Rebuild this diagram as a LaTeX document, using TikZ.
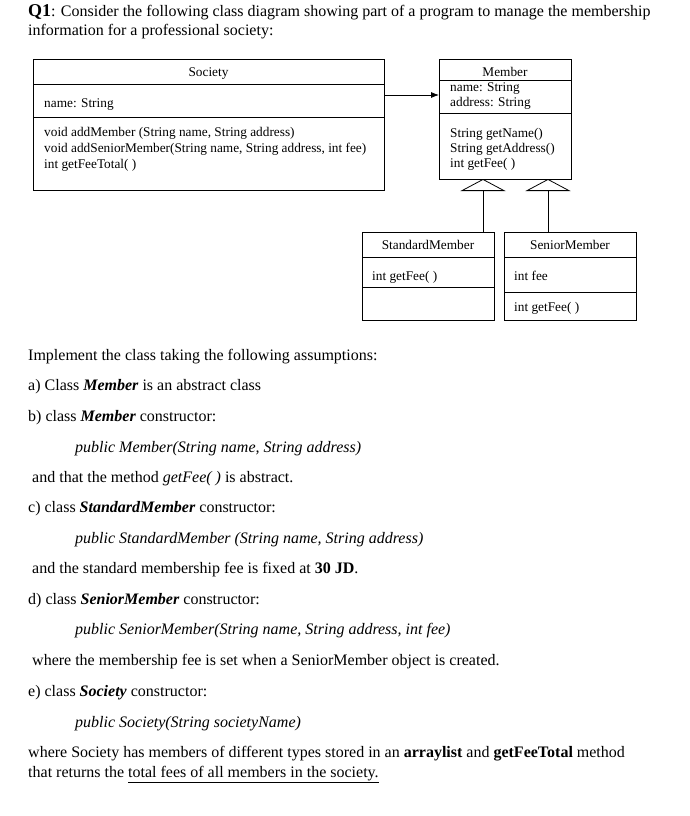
\documentclass[tikz,border=0pt]{standalone}
\usepackage{fontspec}
\setmainfont{Liberation Serif}
\usetikzlibrary{arrows.meta}
\begin{document}
\begin{tikzpicture}[x=1pt,y=-1pt,
  txt/.style={anchor=base west,inner sep=0pt,font=\fontsize{16}{18}\selectfont},
  btxt/.style={anchor=base west,inner sep=0pt,font=\fontsize{13.3}{15}\selectfont},
  ctxt/.style={anchor=base,inner sep=0pt,font=\fontsize{13.3}{15}\selectfont},
  box/.style={draw,line width=0.8pt,anchor=north west,inner sep=0pt,outer sep=0pt},
  divl/.style={line width=0.8pt},
  assoc/.style={line width=0.8pt,-{Latex[length=8pt,width=6pt]}},
  gen/.style={line width=0.8pt,-{Triangle[open,length=12pt,width=45pt]}}]
\useasboundingbox (0,0) rectangle (690,816);
% title
\node[txt] (t1) at (28,17) {{\fontsize{18}{18}\selectfont\textbf{Q1}}: Consider the following class diagram showing part of a program to manage the membership};
\node[txt] (t2) at (28,36) {information for a professional society:};
% Society
\node[box,minimum width=351pt,minimum height=131pt] (soc) at (33,59) {};
\draw[divl] ([yshift=-25pt]soc.north west) -- ([yshift=-25pt]soc.north east);
\draw[divl] ([yshift=-58pt]soc.north west) -- ([yshift=-58pt]soc.north east);
\node[ctxt] (socn) at (208.5,76) {Society};
\node[btxt] (soca) at (44,107) {name: String};
\node[btxt] (socm1) at (44,136) {void addMember (String name, String address)};
\node[btxt] (socm2) at (44,152) {void addSeniorMember(String name, String address, int fee)};
\node[btxt] (socm3) at (44,168) {int getFeeTotal( )};
% Member
\node[box,minimum width=132pt,minimum height=120pt] (mem) at (439,59) {};
\draw[divl] ([yshift=-21pt]mem.north west) -- ([yshift=-21pt]mem.north east);
\draw[divl] ([yshift=-54pt]mem.north west) -- ([yshift=-54pt]mem.north east);
\node[ctxt] (memn) at (505,76) {Member};
\node[btxt] (mema1) at (450,92) {name: String};
\node[btxt] (mema2) at (450,106) {address: String};
\node[btxt] (memm1) at (450,137) {String getName()};
\node[btxt] (memm2) at (450,152) {String getAddress()};
\node[btxt] (memm3) at (450,167) {int getFee( )};
% StandardMember
\node[box,minimum width=132pt,minimum height=88pt] (std) at (362,232) {};
\draw[divl] ([yshift=-25pt]std.north west) -- ([yshift=-25pt]std.north east);
\draw[divl] ([yshift=-55pt]std.north west) -- ([yshift=-55pt]std.north east);
\node[ctxt] (stdn) at (428,249) {StandardMember};
\node[btxt] (stdm) at (372,280) {int getFee( )};
% SeniorMember
\node[box,minimum width=132pt,minimum height=88pt] (sen) at (504,232) {};
\draw[divl] ([yshift=-25pt]sen.north west) -- ([yshift=-25pt]sen.north east);
\draw[divl] ([yshift=-60pt]sen.north west) -- ([yshift=-60pt]sen.north east);
\node[ctxt] (senn) at (570,249) {SeniorMember};
\node[btxt] (sena) at (514,280) {int fee};
\node[btxt] (senm) at (514,311) {int getFee( )};
% connectors
\coordinate (a1) at (400,95);
\draw[assoc] (soc.east |- a1) -- (mem.west |- a1);
\coordinate (g1) at (483,200);
\coordinate (g2) at (548,200);
\draw[gen] (std.north -| g1) -- (mem.south -| g1);
\draw[gen] (sen.north -| g2) -- (mem.south -| g2);
% body text
\node[txt] (b1) at (28,360) {Implement the class taking the following assumptions:};
\node[txt] (b2) at (28,390) {a) Class \textbf{\textit{Member}} is an abstract class};
\node[txt] (b3) at (28,421) {b) class \textbf{\textit{Member}} constructor:};
\node[txt] (b4) at (75,452) {\textit{public Member(String name, String address)}};
\node[txt] (b5) at (32,482) {and that the method \textit{getFee( )} is abstract.};
\node[txt] (b6) at (28,512) {c) class \textbf{\textit{StandardMember}} constructor:};
\node[txt] (b7) at (75,543) {\textit{public StandardMember (String name, String address)}};
\node[txt] (b8) at (32,573) {and the standard membership fee is fixed at \textbf{30 JD}.};
\node[txt] (b9) at (28,604) {d) class \textbf{\textit{SeniorMember}} constructor:};
\node[txt] (b10) at (75,634) {\textit{public SeniorMember(String name, String address, int fee)}};
\node[txt] (b11) at (32,665) {where the membership fee is set when a SeniorMember object is created.};
\node[txt] (b12) at (28,696) {e) class \textbf{\textit{Society}} constructor:};
\node[txt] (b13) at (75,727) {\textit{public Society(String societyName)}};
\node[txt] (b14) at (28,757) {where Society has members of different types stored in an \textbf{arraylist} and \textbf{getFeeTotal} method};
\node[txt] (b15) at (28,777) {that returns the \underline{total fees of all members in the society.}};
\end{tikzpicture}
\end{document}
